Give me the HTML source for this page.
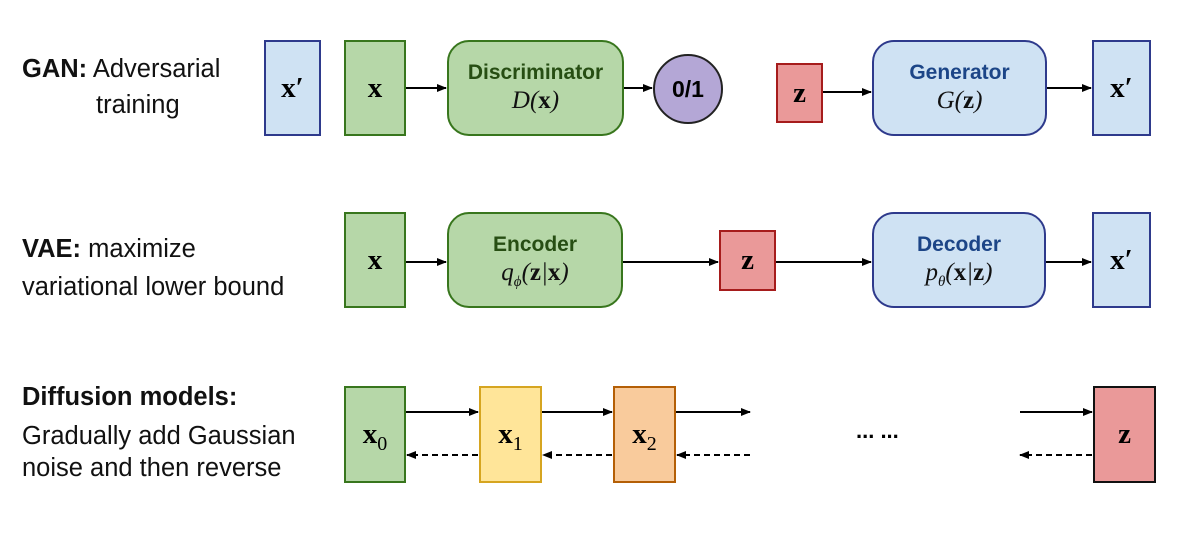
<!DOCTYPE html>
<html><head><meta charset="utf-8"><style>
body{margin:0;width:1200px;height:545px;background:#fff;position:relative;overflow:hidden;font-family:"Liberation Sans","DejaVu Sans",sans-serif}
.b{position:absolute;box-sizing:border-box;display:flex;align-items:center;justify-content:center;flex-direction:column}
.blue{background:#cfe2f3;border:2px solid #2e3a8c}
.green{background:#b6d7a8;border:2px solid #38761d}
.red{background:#ea9999;border:2px solid #a61c1c}
.m{font-family:"Liberation Serif","DejaVu Serif",serif;font-weight:bold;font-size:29px}
.lbl{position:absolute;font-size:25.5px;color:#111;line-height:34px;white-space:nowrap}
.t{font-weight:bold;font-size:21px}
.f{font-family:"Liberation Serif","DejaVu Serif",serif;font-style:italic;font-size:25px;margin-top:2px;color:#111}
sub{line-height:0}
</style></head><body>
<div class="lbl" style="left:22px;top:52px"><b>GAN:</b> Adversarial</div>
<div class="lbl" style="left:96px;top:88px">training</div>
<div class="lbl" style="left:22px;top:232px"><b>VAE:</b> maximize</div>
<div class="lbl" style="left:22px;top:270px">variational lower bound</div>
<div class="lbl" style="left:22px;top:380px"><b>Diffusion models:</b></div>
<div class="lbl" style="left:22px;top:419px">Gradually add Gaussian</div>
<div class="lbl" style="left:22px;top:451px">noise and then reverse</div>

<div class="b blue m" style="left:264px;top:40px;width:57px;height:96px">x′</div>
<div class="b green m" style="left:344px;top:40px;width:62px;height:96px">x</div>
<div class="b green" style="left:447px;top:40px;width:177px;height:96px;border-radius:22px"><div class="t" style="color:#274e13">Discriminator</div><div class="f">D(<b style="font-style:normal">x</b>)</div></div>
<div class="b m" style="left:653px;top:54px;width:70px;height:70px;border-radius:50%;background:#b4a7d6;border:2px solid #222;font-family:'Liberation Sans',sans-serif;font-size:23px">0/1</div>
<div class="b red m" style="left:776px;top:63px;width:47px;height:60px">z</div>
<div class="b blue" style="left:872px;top:40px;width:175px;height:96px;border-radius:22px"><div class="t" style="color:#1c4587">Generator</div><div class="f">G(<b style="font-style:normal">z</b>)</div></div>
<div class="b blue m" style="left:1092px;top:40px;width:59px;height:96px">x′</div>

<div class="b green m" style="left:344px;top:212px;width:62px;height:96px">x</div>
<div class="b green" style="left:447px;top:212px;width:176px;height:96px;border-radius:22px"><div class="t" style="color:#274e13">Encoder</div><div class="f">q<sub style="font-size:15px">ϕ</sub>(<b style="font-style:normal">z</b>|<b style="font-style:normal">x</b>)</div></div>
<div class="b red m" style="left:719px;top:230px;width:57px;height:61px">z</div>
<div class="b blue" style="left:872px;top:212px;width:174px;height:96px;border-radius:22px"><div class="t" style="color:#1c4587">Decoder</div><div class="f">p<sub style="font-size:15px">θ</sub>(<b style="font-style:normal">x</b>|<b style="font-style:normal">z</b>)</div></div>
<div class="b blue m" style="left:1092px;top:212px;width:59px;height:96px">x′</div>

<div class="b green m" style="left:344px;top:386px;width:62px;height:97px"><span>x<sub style="font-size:20px;font-weight:normal">0</sub></span></div>
<div class="b m" style="left:479px;top:386px;width:63px;height:97px;background:#ffe599;border:2px solid #d6a520"><span>x<sub style="font-size:20px;font-weight:normal">1</sub></span></div>
<div class="b m" style="left:613px;top:386px;width:63px;height:97px;background:#f9cb9c;border:2px solid #b45f06"><span>x<sub style="font-size:20px;font-weight:normal">2</sub></span></div>
<div class="b m" style="left:1093px;top:386px;width:63px;height:97px;background:#ea9999;border:2px solid #111">z</div>
<div style="position:absolute;left:856px;top:418px;font-size:22px;font-weight:bold">... ...</div>

<svg width="1200" height="545" style="position:absolute;left:0;top:0">
<defs><marker id="a" markerWidth="10" markerHeight="8" refX="9" refY="4" orient="auto" markerUnits="userSpaceOnUse"><path d="M0,0 L10,4 L0,8z" fill="#000"/></marker></defs>
<g stroke="#000" stroke-width="2" fill="none" marker-end="url(#a)">
<line x1="406" y1="88" x2="446" y2="88"/>
<line x1="624" y1="88" x2="652" y2="88"/>
<line x1="823" y1="92" x2="871" y2="92"/>
<line x1="1047" y1="88" x2="1091" y2="88"/>
<line x1="406" y1="262" x2="446" y2="262"/>
<line x1="623" y1="262" x2="718" y2="262"/>
<line x1="776" y1="262" x2="871" y2="262"/>
<line x1="1046" y1="262" x2="1091" y2="262"/>
<line x1="406" y1="412" x2="478" y2="412"/>
<line x1="542" y1="412" x2="612" y2="412"/>
<line x1="676" y1="412" x2="750" y2="412"/>
<line x1="1020" y1="412" x2="1092" y2="412"/>
<g stroke-dasharray="6,4">
<line x1="478" y1="455" x2="407" y2="455"/>
<line x1="612" y1="455" x2="543" y2="455"/>
<line x1="750" y1="455" x2="677" y2="455"/>
<line x1="1092" y1="455" x2="1020" y2="455"/>
</g></g></svg>
</body></html>
